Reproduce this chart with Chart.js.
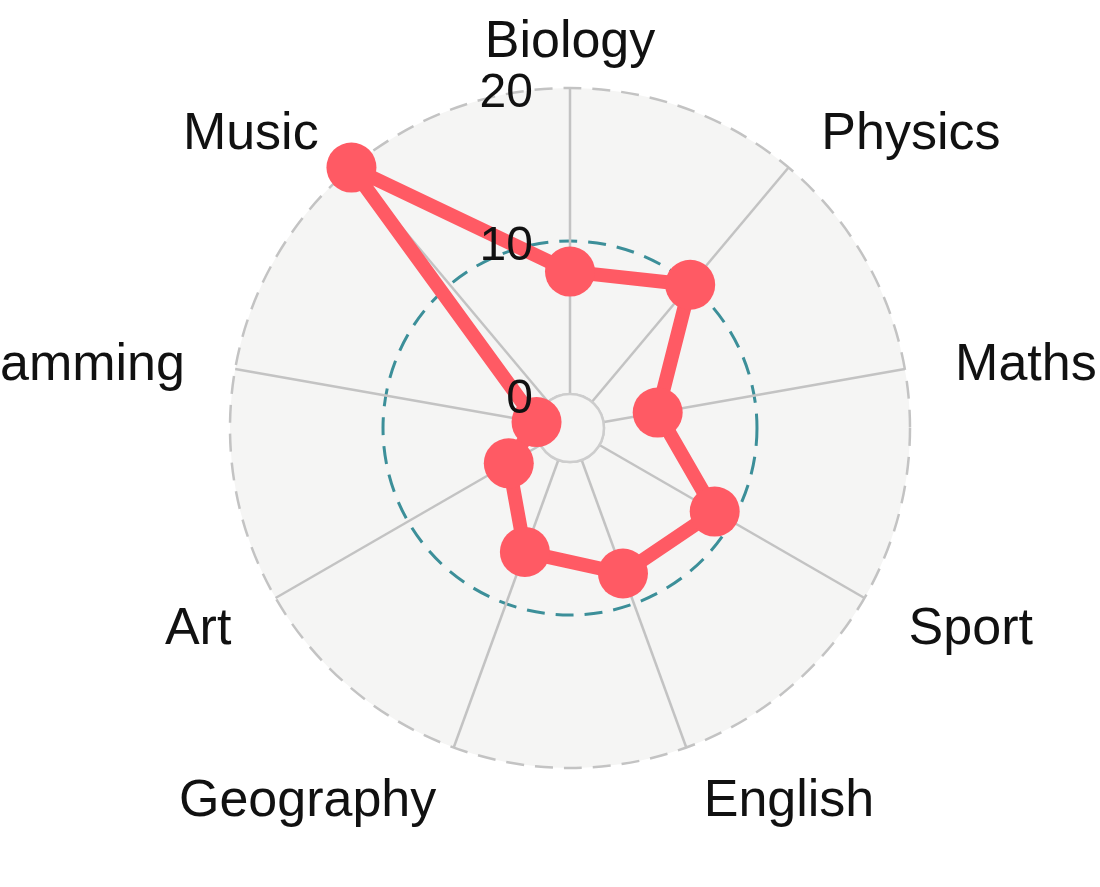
<!DOCTYPE html>
<html>
<head>
<meta charset="utf-8">
<title>Subjects radar</title>
<script src="https://cdn.jsdelivr.net/npm/chart.js@4.4.0/dist/chart.umd.min.js"></script>
<style>
    html, body { margin: 0; padding: 0; background: #ffffff; overflow: hidden; }
    #wrap { width: 1100px; height: 887px; position: relative; }
</style>
</head>
<body>
<div id="wrap"><canvas id="radarChart"></canvas></div>
<script>
const subjects = ["Biology", "Physics", "Maths", "Sport", "English", "Geography", "Art", "Programming", "Music"];
const scores = [8, 10, 3.6, 8.7, 7.9, 6.4, 2.4, 0, 20];
const tickValues = [0, 10, 20];
const tickLabels = ["0", "10", "20"];

const areaColor = "#f5f5f4";
const greyLine = "#c3c3c3";
const tealLine = "#3c8f99";
const red = "#ff5a64";
const fontFamily = "'Liberation Sans', Arial, Helvetica, sans-serif";

// draws the hole in the middle, the tick numbers and the subject names
const labelPlugin = {
    id: "labelPlugin",
    beforeDatasetsDraw(chart) {
        const scale = chart.scales.r;
        const ctx = chart.ctx;
        const r0 = scale.getDistanceFromCenterForValue(tickValues[0]);

        ctx.save();
        ctx.beginPath();
        ctx.arc(scale.xCenter, scale.yCenter, r0, 0, Math.PI * 2);
        ctx.fillStyle = areaColor;
        ctx.fill();
        ctx.lineWidth = 2.5;
        ctx.strokeStyle = "#cdcdcd";
        ctx.stroke();
        ctx.restore();
    },
    afterDatasetsDraw(chart) {
        const scale = chart.scales.r;
        const ctx = chart.ctx;

        ctx.save();
        ctx.fillStyle = "#111111";

        // tick numbers, left of the top spoke
        ctx.font = "48px " + fontFamily;
        ctx.textAlign = "right";
        ctx.textBaseline = "middle";
        tickValues.forEach((v, i) => {
            const d = scale.getDistanceFromCenterForValue(v);
            ctx.fillText(tickLabels[i], scale.xCenter - 37, scale.yCenter - d + 6);
        });

        // subject names round the outside
        ctx.font = "52px " + fontFamily;
        const n = subjects.length;
        for (let i = 0; i < n; i++) {
            const pos = scale.getPointPosition(i, scale.drawingArea + 51);
            const deg = Math.round(i * 360 / n);
            if (deg === 0 || deg === 180) ctx.textAlign = "center";
            else if (deg < 180) ctx.textAlign = "left";
            else ctx.textAlign = "right";
            ctx.fillText(subjects[i], pos.x, pos.y + 6);
        }
        ctx.restore();
    }
};

const ctx = document.getElementById("radarChart").getContext("2d");

const radarChart = new Chart(ctx, {
    type: "radar",
    data: {
        labels: subjects,
        datasets: [
            {
                label: "Score",
                data: scores,
                fill: false,
                borderColor: red,
                borderWidth: 14,
                borderJoinStyle: "round",
                pointRadius: 25,
                pointHoverRadius: 25,
                pointBorderWidth: 0,
                pointBackgroundColor: red,
                tension: 0
            }
        ]
    },
    options: {
        responsive: true,
        maintainAspectRatio: false,
        animation: false,
        layout: { padding: { left: 230, right: 190, top: 88, bottom: 119 } },
        plugins: {
            legend: { display: false },
            tooltip: { enabled: false }
        },
        scales: {
            r: {
                min: -2.22,
                max: 20,
                backgroundColor: areaColor,
                afterBuildTicks: (scale) => {
                    scale.ticks = tickValues.map(v => ({ value: v }));
                },
                ticks: { display: false },
                pointLabels: { display: false },
                angleLines: { color: greyLine, lineWidth: 2.5 },
                grid: {
                    circular: true,
                    lineWidth: (c) => (c.tick && c.tick.value === 10 ? 3 : 2.5),
                    color: (c) => (c.tick && c.tick.value === 10 ? tealLine : (c.tick && c.tick.value === 0 ? "#cdcdcd" : greyLine))
                },
                border: {
                    dash: (c) => (c.tick && c.tick.value === 0 ? [] : [18, 11])
                }
            }
        }
    },
    plugins: [labelPlugin]
});
</script>
</body>
</html>
